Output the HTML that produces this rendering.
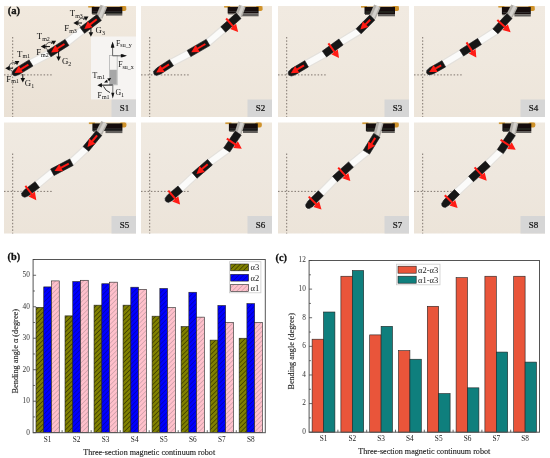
<!DOCTYPE html>
<html><head><meta charset="utf-8"><style>
html,body{margin:0;padding:0;background:#fff;width:550px;height:458px;overflow:hidden}
svg{display:block}
</style></head><body>
<svg width="550" height="458" viewBox="0 0 550 458">
<defs><linearGradient id="bg" x1="0" y1="0" x2="0" y2="1"><stop offset="0" stop-color="#f1eae1"/><stop offset="0.5" stop-color="#efe8de"/><stop offset="1" stop-color="#ede5da"/></linearGradient><linearGradient id="bgp1" x1="0" y1="0" x2="0" y2="1"><stop offset="0" stop-color="#f1e9de"/><stop offset="1" stop-color="#eae1d5"/></linearGradient><linearGradient id="bg2" x1="0" y1="0" x2="0" y2="1"><stop offset="0" stop-color="#f0eae1"/><stop offset="0.5" stop-color="#eee7de"/><stop offset="1" stop-color="#ece4d9"/></linearGradient><filter id="soft" x="-5%" y="-5%" width="110%" height="110%"><feGaussianBlur stdDeviation="0.45"/></filter></defs>
<rect x="4" y="6" width="132" height="111" fill="url(#bgp1)"/>
<rect x="91" y="36.5" width="45" height="63" fill="#f6f4f2"/>
<line x1="12.7" y1="37" x2="12.7" y2="117" stroke="#7f766e" stroke-width="1" stroke-dasharray="1.5,1.8"/>
<line x1="4" y1="74.9" x2="53" y2="74.9" stroke="#7f766e" stroke-width="1" stroke-dasharray="1.5,1.8"/>
<g filter="url(#soft)"><rect x="88.3" y="6" width="38.0" height="1.2" fill="#d29a38" fill-opacity="0.45"/><rect x="88.3" y="6" width="6" height="1.6" fill="#d29a38"/><rect x="119.3" y="6" width="7" height="5" rx="1.8" fill="#cf922a"/><rect x="91.8" y="6.9" width="30.5" height="6.9" fill="#121110"/><rect x="92.8" y="11.4" width="28.5" height="0.8" fill="#3a3835"/><rect x="106" y="13.8" width="16.299999999999997" height="1.799999999999999" fill="#64615d"/><rect x="92.3" y="13.5" width="9.200000000000003" height="1.2" fill="#55524e"/><line x1="103.8" y1="6.0" x2="99.2" y2="17.5" stroke="#b3afa9" stroke-width="7"/><line x1="104.4" y1="6.0" x2="99.8" y2="17.5" stroke="#d3d0cb" stroke-width="3"/><path d="M12.5,74.3 L31.0,63.0 L49.0,53.8 L67.0,42.4 L82.3,30.4 L99.2,17.5" fill="none" stroke="#e4e1dc" stroke-width="8.4" stroke-linejoin="round"/><path d="M12.5,74.3 L31.0,63.0 L49.0,53.8 L67.0,42.4 L82.3,30.4 L99.2,17.5" fill="none" stroke="#fbfbfa" stroke-width="6" stroke-linejoin="round"/><polygon points="12.9,75.0 14.9,75.9 19.1,74.5 32.9,66.1 29.1,59.9 15.3,68.4 12.2,71.5 12.1,73.6" fill="#151414" stroke="#151414" stroke-width="0.6" stroke-linejoin="round"/><polygon points="50.9,56.8 68.9,45.4 65.1,39.4 47.1,50.8" fill="#151414" stroke="#151414" stroke-width="0.6" stroke-linejoin="round"/><polygon points="84.5,33.3 101.4,20.4 97.0,14.6 80.1,27.5" fill="#151414" stroke="#151414" stroke-width="0.6" stroke-linejoin="round"/><line x1="28.4" y1="64.6" x2="20.2" y2="69.6" stroke="#ff1a12" stroke-width="2"/><polygon points="14.6,73.0 18.9,65.7 23.1,72.5" fill="#ff1a12"/><line x1="64.5" y1="44.0" x2="56.6" y2="49.0" stroke="#ff1a12" stroke-width="2"/><polygon points="51.1,52.5 55.3,45.1 59.6,51.8" fill="#ff1a12"/><line x1="96.8" y1="19.3" x2="89.5" y2="24.9" stroke="#ff1a12" stroke-width="2"/><polygon points="84.3,28.9 87.8,21.2 92.7,27.5" fill="#ff1a12"/></g>
<rect x="111.5" y="99.5" width="24.5" height="17.5" fill="#d6d6d6"/>
<text x="124.4" y="111.1" font-size="9" text-anchor="middle" font-family="'Liberation Serif', 'DejaVu Serif', serif" fill="#111" stroke="#111" stroke-width="0.2">S1</text>
<rect x="141" y="6" width="131" height="111" fill="url(#bg)"/>
<line x1="149.7" y1="37" x2="149.7" y2="117" stroke="#7f766e" stroke-width="1" stroke-dasharray="1.5,1.8"/>
<line x1="141" y1="74.9" x2="190" y2="74.9" stroke="#7f766e" stroke-width="1" stroke-dasharray="1.5,1.8"/>
<g filter="url(#soft)"><rect x="224.2" y="6" width="38.400000000000034" height="1.2" fill="#d29a38" fill-opacity="0.45"/><rect x="224.2" y="6" width="6" height="1.6" fill="#d29a38"/><rect x="255.60000000000002" y="6" width="7" height="5" rx="1.8" fill="#cf922a"/><rect x="227.7" y="6.9" width="30.900000000000034" height="6.6" fill="#121110"/><rect x="228.7" y="11.1" width="28.900000000000034" height="0.8" fill="#3a3835"/><rect x="241" y="13.5" width="17.600000000000023" height="2.8000000000000007" fill="#64615d"/><rect x="228.2" y="13.2" width="8.300000000000011" height="1.2" fill="#55524e"/><line x1="242.3" y1="6.0" x2="238.6" y2="15.8" stroke="#b3afa9" stroke-width="7"/><line x1="242.9" y1="6.0" x2="239.2" y2="15.8" stroke="#d3d0cb" stroke-width="3"/><path d="M154.1,74.0 L171.5,62.7 L189.0,53.5 L208.0,42.5 L223.2,29.5 L238.6,15.8" fill="none" stroke="#e4e1dc" stroke-width="8.4" stroke-linejoin="round"/><path d="M154.1,74.0 L171.5,62.7 L189.0,53.5 L208.0,42.5 L223.2,29.5 L238.6,15.8" fill="none" stroke="#fbfbfa" stroke-width="6" stroke-linejoin="round"/><polygon points="154.5,74.7 156.5,75.5 160.7,74.0 173.5,65.7 169.5,59.7 156.8,68.0 153.7,71.2 153.7,73.3" fill="#151414" stroke="#151414" stroke-width="0.6" stroke-linejoin="round"/><polygon points="190.8,56.6 209.8,45.6 206.2,39.4 187.2,50.4" fill="#151414" stroke="#151414" stroke-width="0.6" stroke-linejoin="round"/><polygon points="225.6,32.2 241.0,18.5 236.2,13.1 220.8,26.8" fill="#151414" stroke="#151414" stroke-width="0.6" stroke-linejoin="round"/><line x1="169.0" y1="64.3" x2="161.6" y2="69.1" stroke="#ff1a12" stroke-width="2"/><polygon points="156.2,72.6 160.3,65.2 164.7,71.9" fill="#ff1a12"/><line x1="205.4" y1="44.0" x2="196.8" y2="49.0" stroke="#ff1a12" stroke-width="2"/><polygon points="191.2,52.2 195.7,45.0 199.7,52.0" fill="#ff1a12"/><line x1="226.1" y1="18.5" x2="233.8" y2="27.1" stroke="#ff1a12" stroke-width="2"/><polygon points="238.1,32.0 230.2,29.1 236.1,23.7" fill="#ff1a12"/></g>
<rect x="247.5" y="99.5" width="24.5" height="17.5" fill="#d6d6d6"/>
<text x="260.4" y="111.1" font-size="9" text-anchor="middle" font-family="'Liberation Serif', 'DejaVu Serif', serif" fill="#111" stroke="#111" stroke-width="0.2">S2</text>
<rect x="278" y="6" width="131" height="111" fill="url(#bg)"/>
<line x1="286.7" y1="37" x2="286.7" y2="117" stroke="#7f766e" stroke-width="1" stroke-dasharray="1.5,1.8"/>
<line x1="278" y1="74.9" x2="327" y2="74.9" stroke="#7f766e" stroke-width="1" stroke-dasharray="1.5,1.8"/>
<g filter="url(#soft)"><rect x="361.0" y="6" width="38.0" height="1.2" fill="#d29a38" fill-opacity="0.45"/><rect x="361.0" y="6" width="6" height="1.6" fill="#d29a38"/><rect x="392" y="6" width="7" height="5" rx="1.8" fill="#cf922a"/><rect x="364.5" y="6.9" width="30.5" height="7.1" fill="#121110"/><rect x="365.5" y="11.6" width="28.5" height="0.8" fill="#3a3835"/><rect x="378" y="14" width="17" height="2.3000000000000007" fill="#64615d"/><rect x="365.0" y="13.7" width="8.5" height="1.2" fill="#55524e"/><line x1="377.3" y1="6.0" x2="372.3" y2="17.6" stroke="#b3afa9" stroke-width="7"/><line x1="377.9" y1="6.0" x2="372.9" y2="17.6" stroke="#d3d0cb" stroke-width="3"/><path d="M288.7,74.5 L306.6,63.8 L324.4,54.0 L341.0,42.0 L358.6,31.3 L372.3,17.6" fill="none" stroke="#e4e1dc" stroke-width="8.4" stroke-linejoin="round"/><path d="M288.7,74.5 L306.6,63.8 L324.4,54.0 L341.0,42.0 L358.6,31.3 L372.3,17.6" fill="none" stroke="#fbfbfa" stroke-width="6" stroke-linejoin="round"/><polygon points="289.1,75.2 291.1,76.1 295.3,74.8 308.4,66.9 304.8,60.7 291.6,68.6 288.4,71.7 288.3,73.8" fill="#151414" stroke="#151414" stroke-width="0.6" stroke-linejoin="round"/><polygon points="326.5,56.9 343.1,44.9 338.9,39.1 322.3,51.1" fill="#151414" stroke="#151414" stroke-width="0.6" stroke-linejoin="round"/><polygon points="361.1,33.8 374.8,20.1 369.8,15.1 356.1,28.8" fill="#151414" stroke="#151414" stroke-width="0.6" stroke-linejoin="round"/><line x1="304.0" y1="65.3" x2="296.4" y2="69.9" stroke="#ff1a12" stroke-width="2"/><polygon points="290.8,73.2 295.2,65.9 299.3,72.8" fill="#ff1a12"/><line x1="328.4" y1="43.4" x2="335.2" y2="52.8" stroke="#ff1a12" stroke-width="2"/><polygon points="339.0,58.0 331.3,54.3 337.8,49.6" fill="#ff1a12"/><line x1="370.2" y1="19.7" x2="365.0" y2="24.9" stroke="#ff1a12" stroke-width="2"/><polygon points="360.4,29.5 362.8,21.4 368.5,27.1" fill="#ff1a12"/></g>
<rect x="384.5" y="99.5" width="24.5" height="17.5" fill="#d6d6d6"/>
<text x="397.4" y="111.1" font-size="9" text-anchor="middle" font-family="'Liberation Serif', 'DejaVu Serif', serif" fill="#111" stroke="#111" stroke-width="0.2">S3</text>
<rect x="414" y="6" width="131" height="111" fill="url(#bg)"/>
<line x1="422.7" y1="37" x2="422.7" y2="117" stroke="#7f766e" stroke-width="1" stroke-dasharray="1.5,1.8"/>
<line x1="414" y1="74.9" x2="463" y2="74.9" stroke="#7f766e" stroke-width="1" stroke-dasharray="1.5,1.8"/>
<g filter="url(#soft)"><rect x="498.4" y="6" width="36.39999999999998" height="1.2" fill="#d29a38" fill-opacity="0.45"/><rect x="498.4" y="6" width="6" height="1.6" fill="#d29a38"/><rect x="527.8" y="6" width="7" height="5" rx="1.8" fill="#cf922a"/><rect x="501.9" y="6.9" width="28.899999999999977" height="7.5" fill="#121110"/><rect x="502.9" y="12.0" width="26.899999999999977" height="0.8" fill="#3a3835"/><rect x="514.4" y="14.4" width="16.399999999999977" height="2.0999999999999996" fill="#64615d"/><rect x="502.4" y="14.1" width="7.5" height="1.2" fill="#55524e"/><line x1="514.4" y1="6.0" x2="509.5" y2="16.0" stroke="#b3afa9" stroke-width="7"/><line x1="515.0" y1="6.0" x2="510.1" y2="16.0" stroke="#d3d0cb" stroke-width="3"/><path d="M427.0,73.3 L443.8,63.8 L461.6,53.0 L479.5,41.5 L495.4,31.3 L509.5,16.0" fill="none" stroke="#e4e1dc" stroke-width="8.4" stroke-linejoin="round"/><path d="M427.0,73.3 L443.8,63.8 L461.6,53.0 L479.5,41.5 L495.4,31.3 L509.5,16.0" fill="none" stroke="#fbfbfa" stroke-width="6" stroke-linejoin="round"/><polygon points="427.4,74.0 429.3,75.0 433.6,73.7 445.6,66.9 442.0,60.7 430.0,67.5 426.8,70.4 426.6,72.6" fill="#151414" stroke="#151414" stroke-width="0.6" stroke-linejoin="round"/><polygon points="463.5,56.0 481.4,44.5 477.6,38.5 459.7,50.0" fill="#151414" stroke="#151414" stroke-width="0.6" stroke-linejoin="round"/><polygon points="498.0,33.7 512.1,18.4 506.9,13.6 492.8,28.9" fill="#151414" stroke="#151414" stroke-width="0.6" stroke-linejoin="round"/><line x1="441.2" y1="65.3" x2="434.8" y2="68.9" stroke="#ff1a12" stroke-width="2"/><polygon points="429.2,72.1 433.7,64.9 437.7,71.9" fill="#ff1a12"/><line x1="466.5" y1="42.4" x2="472.7" y2="52.1" stroke="#ff1a12" stroke-width="2"/><polygon points="476.3,57.6 468.8,53.5 475.6,49.1" fill="#ff1a12"/><line x1="497.3" y1="20.0" x2="505.8" y2="27.8" stroke="#ff1a12" stroke-width="2"/><polygon points="510.6,32.2 502.4,30.1 507.8,24.2" fill="#ff1a12"/></g>
<rect x="520.5" y="99.5" width="24.5" height="17.5" fill="#d6d6d6"/>
<text x="533.4" y="111.1" font-size="9" text-anchor="middle" font-family="'Liberation Serif', 'DejaVu Serif', serif" fill="#111" stroke="#111" stroke-width="0.2">S4</text>
<rect x="4" y="122.5" width="132" height="111.0" fill="url(#bg2)"/>
<line x1="12.7" y1="153.5" x2="12.7" y2="233.5" stroke="#7f766e" stroke-width="1" stroke-dasharray="1.5,1.8"/>
<line x1="4" y1="191.4" x2="53" y2="191.4" stroke="#7f766e" stroke-width="1" stroke-dasharray="1.5,1.8"/>
<g filter="url(#soft)"><rect x="88.9" y="122.5" width="37.5" height="1.2" fill="#d29a38" fill-opacity="0.45"/><rect x="88.9" y="122.5" width="6" height="1.6" fill="#d29a38"/><rect x="119.4" y="122.5" width="7" height="5" rx="1.8" fill="#cf922a"/><rect x="92.4" y="123.4" width="30.0" height="7.500000000000005" fill="#121110"/><rect x="93.4" y="128.5" width="28.0" height="0.8" fill="#3a3835"/><rect x="105.5" y="130.9" width="16.900000000000006" height="2.1999999999999886" fill="#64615d"/><rect x="92.9" y="130.6" width="8.099999999999994" height="1.2" fill="#55524e"/><line x1="104.4" y1="122.5" x2="99.0" y2="133.1" stroke="#b3afa9" stroke-width="7"/><line x1="105.0" y1="122.5" x2="99.6" y2="133.1" stroke="#d3d0cb" stroke-width="3"/><path d="M22.3,196.0 L37.3,184.6 L52.3,172.3 L71.5,162.2 L85.9,148.9 L99.0,133.1" fill="none" stroke="#e4e1dc" stroke-width="8.4" stroke-linejoin="round"/><path d="M22.3,196.0 L37.3,184.6 L52.3,172.3 L71.5,162.2 L85.9,148.9 L99.0,133.1" fill="none" stroke="#fbfbfa" stroke-width="6" stroke-linejoin="round"/><polygon points="22.8,196.6 24.8,197.3 28.9,195.5 39.5,187.5 35.1,181.7 24.5,189.8 21.7,193.2 21.8,195.4" fill="#151414" stroke="#151414" stroke-width="0.6" stroke-linejoin="round"/><polygon points="54.0,175.5 73.2,165.4 69.8,159.0 50.6,169.1" fill="#151414" stroke="#151414" stroke-width="0.6" stroke-linejoin="round"/><polygon points="88.7,151.2 101.8,135.4 96.2,130.8 83.1,146.6" fill="#151414" stroke="#151414" stroke-width="0.6" stroke-linejoin="round"/><line x1="25.4" y1="185.8" x2="32.4" y2="195.0" stroke="#ff1a12" stroke-width="2"/><polygon points="36.3,200.2 28.6,196.6 34.9,191.8" fill="#ff1a12"/><line x1="68.8" y1="163.6" x2="60.3" y2="168.1" stroke="#ff1a12" stroke-width="2"/><polygon points="54.5,171.1 59.3,164.1 63.0,171.2" fill="#ff1a12"/><line x1="97.1" y1="135.4" x2="91.6" y2="142.0" stroke="#ff1a12" stroke-width="2"/><polygon points="87.5,147.0 89.2,138.6 95.4,143.8" fill="#ff1a12"/></g>
<rect x="111.5" y="216.0" width="24.5" height="17.5" fill="#d6d6d6"/>
<text x="124.4" y="227.6" font-size="9" text-anchor="middle" font-family="'Liberation Serif', 'DejaVu Serif', serif" fill="#111" stroke="#111" stroke-width="0.2">S5</text>
<rect x="141" y="122.5" width="131" height="111.0" fill="url(#bg2)"/>
<line x1="149.7" y1="153.5" x2="149.7" y2="233.5" stroke="#7f766e" stroke-width="1" stroke-dasharray="1.5,1.8"/>
<line x1="141" y1="191.4" x2="190" y2="191.4" stroke="#7f766e" stroke-width="1" stroke-dasharray="1.5,1.8"/>
<g filter="url(#soft)"><rect x="225.4" y="122.5" width="36.400000000000006" height="1.2" fill="#d29a38" fill-opacity="0.45"/><rect x="225.4" y="122.5" width="6" height="1.6" fill="#d29a38"/><rect x="254.8" y="122.5" width="7" height="5" rx="1.8" fill="#cf922a"/><rect x="228.9" y="123.4" width="28.900000000000006" height="7.500000000000005" fill="#121110"/><rect x="229.9" y="128.5" width="26.900000000000006" height="0.8" fill="#3a3835"/><rect x="243" y="130.9" width="14.800000000000011" height="2.0999999999999943" fill="#64615d"/><rect x="229.4" y="130.6" width="9.099999999999994" height="1.2" fill="#55524e"/><line x1="241.4" y1="122.5" x2="238.2" y2="133.1" stroke="#b3afa9" stroke-width="7"/><line x1="242.0" y1="122.5" x2="238.8" y2="133.1" stroke="#d3d0cb" stroke-width="3"/><path d="M165.8,201.2 L180.3,188.8 L194.6,175.5 L210.0,162.2 L226.7,150.0 L238.2,133.1" fill="none" stroke="#e4e1dc" stroke-width="8.4" stroke-linejoin="round"/><path d="M165.8,201.2 L180.3,188.8 L194.6,175.5 L210.0,162.2 L226.7,150.0 L238.2,133.1" fill="none" stroke="#fbfbfa" stroke-width="6" stroke-linejoin="round"/><polygon points="166.3,201.8 168.4,202.4 172.3,200.4 182.6,191.5 178.0,186.1 167.6,194.9 165.0,198.4 165.3,200.6" fill="#151414" stroke="#151414" stroke-width="0.6" stroke-linejoin="round"/><polygon points="197.0,178.2 212.4,164.9 207.6,159.5 192.2,172.8" fill="#151414" stroke="#151414" stroke-width="0.6" stroke-linejoin="round"/><polygon points="229.7,152.0 241.2,135.1 235.2,131.1 223.7,148.0" fill="#151414" stroke="#151414" stroke-width="0.6" stroke-linejoin="round"/><line x1="168.3" y1="190.7" x2="175.9" y2="199.5" stroke="#ff1a12" stroke-width="2"/><polygon points="180.1,204.5 172.2,201.4 178.3,196.2" fill="#ff1a12"/><line x1="207.7" y1="164.2" x2="201.4" y2="169.6" stroke="#ff1a12" stroke-width="2"/><polygon points="196.5,173.9 199.6,165.9 204.8,172.0" fill="#ff1a12"/><line x1="226.8" y1="138.7" x2="236.4" y2="145.2" stroke="#ff1a12" stroke-width="2"/><polygon points="241.8,148.8 233.3,147.9 237.8,141.3" fill="#ff1a12"/></g>
<rect x="247.5" y="216.0" width="24.5" height="17.5" fill="#d6d6d6"/>
<text x="260.4" y="227.6" font-size="9" text-anchor="middle" font-family="'Liberation Serif', 'DejaVu Serif', serif" fill="#111" stroke="#111" stroke-width="0.2">S6</text>
<rect x="278" y="122.5" width="131" height="111.0" fill="url(#bg2)"/>
<line x1="286.7" y1="153.5" x2="286.7" y2="233.5" stroke="#7f766e" stroke-width="1" stroke-dasharray="1.5,1.8"/>
<line x1="278" y1="191.4" x2="327" y2="191.4" stroke="#7f766e" stroke-width="1" stroke-dasharray="1.5,1.8"/>
<g filter="url(#soft)"><rect x="362.4" y="122.5" width="36.400000000000034" height="1.2" fill="#d29a38" fill-opacity="0.45"/><rect x="362.4" y="122.5" width="6" height="1.6" fill="#d29a38"/><rect x="391.8" y="122.5" width="7" height="5" rx="1.8" fill="#cf922a"/><rect x="365.9" y="123.4" width="28.900000000000034" height="7.6" fill="#121110"/><rect x="366.9" y="128.6" width="26.900000000000034" height="0.8" fill="#3a3835"/><rect x="381.7" y="131" width="13.100000000000023" height="2" fill="#64615d"/><rect x="366.4" y="130.7" width="10.800000000000011" height="1.2" fill="#55524e"/><line x1="380.1" y1="122.5" x2="376.8" y2="135.3" stroke="#b3afa9" stroke-width="7"/><line x1="380.7" y1="122.5" x2="377.4" y2="135.3" stroke="#d3d0cb" stroke-width="3"/><path d="M306.6,207.6 L320.9,193.3 L335.0,179.0 L351.0,164.6 L366.4,152.2 L376.8,135.3" fill="none" stroke="#e4e1dc" stroke-width="8.4" stroke-linejoin="round"/><path d="M306.6,207.6 L320.9,193.3 L335.0,179.0 L351.0,164.6 L366.4,152.2 L376.8,135.3" fill="none" stroke="#fbfbfa" stroke-width="6" stroke-linejoin="round"/><polygon points="307.2,208.2 309.3,208.6 313.0,206.3 323.4,195.8 318.4,190.8 307.9,201.2 305.6,204.9 306.0,207.0" fill="#151414" stroke="#151414" stroke-width="0.6" stroke-linejoin="round"/><polygon points="337.4,181.7 353.4,167.3 348.6,161.9 332.6,176.3" fill="#151414" stroke="#151414" stroke-width="0.6" stroke-linejoin="round"/><polygon points="369.5,154.1 379.9,137.2 373.7,133.4 363.3,150.3" fill="#151414" stroke="#151414" stroke-width="0.6" stroke-linejoin="round"/><line x1="308.7" y1="196.6" x2="316.9" y2="204.8" stroke="#ff1a12" stroke-width="2"/><polygon points="321.5,209.4 313.4,206.9 319.1,201.2" fill="#ff1a12"/><line x1="338.2" y1="167.7" x2="346.0" y2="176.3" stroke="#ff1a12" stroke-width="2"/><polygon points="350.3,181.1 342.3,178.2 348.3,172.9" fill="#ff1a12"/><line x1="375.2" y1="137.9" x2="371.1" y2="144.5" stroke="#ff1a12" stroke-width="2"/><polygon points="367.7,150.1 368.2,141.6 375.0,145.8" fill="#ff1a12"/></g>
<rect x="384.5" y="216.0" width="24.5" height="17.5" fill="#d6d6d6"/>
<text x="397.4" y="227.6" font-size="9" text-anchor="middle" font-family="'Liberation Serif', 'DejaVu Serif', serif" fill="#111" stroke="#111" stroke-width="0.2">S7</text>
<rect x="414" y="122.5" width="131" height="111.0" fill="url(#bg2)"/>
<line x1="422.7" y1="153.5" x2="422.7" y2="233.5" stroke="#7f766e" stroke-width="1" stroke-dasharray="1.5,1.8"/>
<line x1="414" y1="191.4" x2="463" y2="191.4" stroke="#7f766e" stroke-width="1" stroke-dasharray="1.5,1.8"/>
<g filter="url(#soft)"><rect x="498.9" y="122.5" width="36.39999999999998" height="1.2" fill="#d29a38" fill-opacity="0.45"/><rect x="498.9" y="122.5" width="6" height="1.6" fill="#d29a38"/><rect x="528.3" y="122.5" width="7" height="5" rx="1.8" fill="#cf922a"/><rect x="502.4" y="123.4" width="28.899999999999977" height="7.6" fill="#121110"/><rect x="503.4" y="128.6" width="26.899999999999977" height="0.8" fill="#3a3835"/><rect x="514" y="131" width="17.299999999999955" height="2" fill="#64615d"/><rect x="502.9" y="130.7" width="6.600000000000023" height="1.2" fill="#55524e"/><line x1="515.0" y1="122.5" x2="512.3" y2="133.6" stroke="#b3afa9" stroke-width="7"/><line x1="515.6" y1="122.5" x2="512.9" y2="133.6" stroke="#d3d0cb" stroke-width="3"/><path d="M442.6,206.4 L457.0,192.0 L471.0,179.0 L487.8,163.8 L500.3,151.6 L512.3,133.6" fill="none" stroke="#e4e1dc" stroke-width="8.4" stroke-linejoin="round"/><path d="M442.6,206.4 L457.0,192.0 L471.0,179.0 L487.8,163.8 L500.3,151.6 L512.3,133.6" fill="none" stroke="#fbfbfa" stroke-width="6" stroke-linejoin="round"/><polygon points="443.2,207.0 445.3,207.4 449.0,205.1 459.5,194.5 454.5,189.5 443.9,200.0 441.6,203.7 442.0,205.8" fill="#151414" stroke="#151414" stroke-width="0.6" stroke-linejoin="round"/><polygon points="473.4,181.7 490.2,166.5 485.4,161.1 468.6,176.3" fill="#151414" stroke="#151414" stroke-width="0.6" stroke-linejoin="round"/><polygon points="503.3,153.6 515.3,135.6 509.3,131.6 497.3,149.6" fill="#151414" stroke="#151414" stroke-width="0.6" stroke-linejoin="round"/><line x1="444.8" y1="195.3" x2="453.0" y2="203.5" stroke="#ff1a12" stroke-width="2"/><polygon points="457.6,208.1 449.4,205.6 455.1,200.0" fill="#ff1a12"/><line x1="474.6" y1="167.3" x2="482.4" y2="175.9" stroke="#ff1a12" stroke-width="2"/><polygon points="486.7,180.7 478.7,177.8 484.7,172.4" fill="#ff1a12"/><line x1="500.6" y1="139.8" x2="510.3" y2="146.2" stroke="#ff1a12" stroke-width="2"/><polygon points="515.7,149.8 507.2,149.0 511.7,142.3" fill="#ff1a12"/></g>
<rect x="520.5" y="216.0" width="24.5" height="17.5" fill="#d6d6d6"/>
<text x="533.4" y="227.6" font-size="9" text-anchor="middle" font-family="'Liberation Serif', 'DejaVu Serif', serif" fill="#111" stroke="#111" stroke-width="0.2">S8</text>
<text x="7.8" y="13.5" font-size="10.6" font-weight="bold" font-family="'Liberation Serif', 'DejaVu Serif', serif" fill="#111" stroke="#111" stroke-width="0.3">(a)</text><text x="69.8" y="16.2" font-size="8.8" font-family="'Liberation Serif', 'DejaVu Serif', serif" fill="#111">T<tspan font-size="6" dy="1.6">m3</tspan></text><text x="64.3" y="31.2" font-size="8.8" font-family="'Liberation Serif', 'DejaVu Serif', serif" fill="#111">F<tspan font-size="6" dy="1.6">m3</tspan></text><text x="95.6" y="33.4" font-size="8.8" font-family="'Liberation Serif', 'DejaVu Serif', serif" fill="#111">G<tspan font-size="6" dy="1.6">3</tspan></text><path d="M84.7,18.8 A4.3,4.3 0 1 0 81.0,26.5" fill="none" stroke="#333" stroke-width="0.8"/><line x1="83.2" y1="19.6" x2="85.7" y2="18.2" stroke="#111" stroke-width="0.8"/><polygon points="88.5,16.6 86.0,20.7 83.6,16.6" fill="#111"/><line x1="82.0" y1="23.0" x2="76.8" y2="23.0" stroke="#111" stroke-width="1"/><polygon points="73.3,23.0 77.8,20.5 77.8,25.5" fill="#111"/><line x1="90.9" y1="27.5" x2="90.9" y2="33.2" stroke="#111" stroke-width="1"/><polygon points="90.9,36.7 88.6,32.2 93.2,32.2" fill="#111"/><text x="36.8" y="39.4" font-size="8.8" font-family="'Liberation Serif', 'DejaVu Serif', serif" fill="#111">T<tspan font-size="6" dy="1.6">m2</tspan></text><text x="36.2" y="55.4" font-size="8.8" font-family="'Liberation Serif', 'DejaVu Serif', serif" fill="#111">F<tspan font-size="6" dy="1.6">m2</tspan></text><text x="62" y="64.4" font-size="8.8" font-family="'Liberation Serif', 'DejaVu Serif', serif" fill="#111">G<tspan font-size="6" dy="1.6">2</tspan></text><path d="M52.4,42.9 A4.3,4.3 0 1 0 48.7,50.6" fill="none" stroke="#333" stroke-width="0.8"/><line x1="50.9" y1="43.7" x2="53.4" y2="42.3" stroke="#111" stroke-width="0.8"/><polygon points="56.1,40.7 53.7,44.8 51.3,40.7" fill="#111"/><line x1="50.0" y1="46.6" x2="44.3" y2="46.6" stroke="#111" stroke-width="1"/><polygon points="40.8,46.6 45.3,44.1 45.3,49.1" fill="#111"/><line x1="58.6" y1="50.8" x2="58.6" y2="57.5" stroke="#111" stroke-width="1"/><polygon points="58.6,61.0 56.3,56.5 60.9,56.5" fill="#111"/><text x="17" y="56.6" font-size="8.8" font-family="'Liberation Serif', 'DejaVu Serif', serif" fill="#111">T<tspan font-size="6" dy="1.6">m1</tspan></text><text x="6.3" y="81.8" font-size="8.8" font-family="'Liberation Serif', 'DejaVu Serif', serif" fill="#111">F<tspan font-size="6" dy="1.6">m1</tspan></text><text x="24.8" y="86" font-size="8.8" font-family="'Liberation Serif', 'DejaVu Serif', serif" fill="#111">G<tspan font-size="6" dy="1.6">1</tspan></text><path d="M15.7,63.3 A4.3,4.3 0 1 0 12.0,71.0" fill="none" stroke="#333" stroke-width="0.8"/><line x1="14.2" y1="64.1" x2="16.7" y2="62.7" stroke="#111" stroke-width="0.8"/><polygon points="19.4,61.1 17.0,65.2 14.6,61.1" fill="#111"/><line x1="13.0" y1="68.2" x2="8.7" y2="68.2" stroke="#111" stroke-width="1"/><polygon points="5.2,68.2 9.7,65.7 9.7,70.7" fill="#111"/><line x1="22.8" y1="74.0" x2="22.8" y2="79.0" stroke="#111" stroke-width="1"/><polygon points="22.8,82.5 20.5,78.0 25.1,78.0" fill="#111"/><rect x="109.4" y="55.4" width="7.8" height="29.4" fill="none" stroke="#b5b5b5" stroke-width="0.8"/><rect x="109.8" y="69.8" width="7" height="14.6" fill="#a7a7a7"/><line x1="112.6" y1="55.8" x2="112.6" y2="45.8" stroke="#666" stroke-width="1"/><polygon points="112.6,41.8 114.4,46.8 110.8,46.8" fill="#666"/><polygon points="112.6,41.8 110.8,47.8 114.4,47.8" fill="#111"/><line x1="112.6" y1="55.8" x2="122.8" y2="55.8" stroke="#666" stroke-width="1"/><polygon points="126.8,55.8 121.8,57.6 121.8,54.0" fill="#666"/><polygon points="126.8,55.8 120.8,54 120.8,57.6" fill="#111"/><text x="116" y="45.8" font-size="7.8" font-family="'Liberation Serif', 'DejaVu Serif', serif" fill="#111">F<tspan font-size="6" dy="1.6">su_y</tspan></text><text x="118.2" y="67.2" font-size="7.8" font-family="'Liberation Serif', 'DejaVu Serif', serif" fill="#111">F<tspan font-size="6" dy="1.6">su_x</tspan></text><text x="92.6" y="77.8" font-size="7.8" font-family="'Liberation Serif', 'DejaVu Serif', serif" fill="#111">T<tspan font-size="6" dy="1.6">m1</tspan></text><line x1="104.8" y1="82.2" x2="110.6" y2="78.4" stroke="#333" stroke-width="0.9" stroke-dasharray="1.2,0.8"/><polygon points="111.2,78 107.2,78.6 109.2,81.2" fill="#111"/><polygon points="104.2,82.6 106.6,79.8 108,82.6" fill="#111"/><line x1="112.8" y1="85.0" x2="100.9" y2="85.2" stroke="#111" stroke-width="1"/><polygon points="97.4,85.3 101.9,83.0 101.9,87.4" fill="#111"/><path d="M103.5,86.3 Q105.5,91 110,92.6" fill="none" stroke="#222" stroke-width="0.9"/><line x1="112.8" y1="85" x2="112.8" y2="93" stroke="#777" stroke-width="1"/><polygon points="112.8,98.4 111.2,92.8 114.4,92.8" fill="#111"/><text x="115.4" y="95.3" font-size="7.8" font-family="'Liberation Serif', 'DejaVu Serif', serif" fill="#111">G<tspan font-size="6" dy="1.6">1</tspan></text><text x="97.6" y="97.6" font-size="7.8" font-family="'Liberation Serif', 'DejaVu Serif', serif" fill="#111">F<tspan font-size="6" dy="1.6">m1</tspan></text>
<defs><pattern id="h1" width="3.3" height="3.3" patternUnits="userSpaceOnUse" patternTransform="rotate(45)"><rect width="4" height="4" fill="#808000"/><line x1="0" y1="0" x2="0" y2="4" stroke="#222200" stroke-width="1.1"/></pattern><pattern id="h2" width="3.3" height="3.3" patternUnits="userSpaceOnUse" patternTransform="rotate(45)"><rect width="4" height="4" fill="#0000ff"/><line x1="0" y1="0" x2="0" y2="4" stroke="#00008c" stroke-width="1"/></pattern><pattern id="h3" width="3.3" height="3.3" patternUnits="userSpaceOnUse" patternTransform="rotate(45)"><rect width="4" height="4" fill="#ffc0cb"/><line x1="0" y1="0" x2="0" y2="4" stroke="#ad8a90" stroke-width="0.9"/></pattern></defs><rect x="35.99" y="307.37" width="7.75" height="125.33" fill="url(#h1)" stroke="#222" stroke-width="0.6"/><rect x="43.74" y="286.90" width="7.75" height="145.80" fill="url(#h2)" stroke="#222" stroke-width="0.6"/><rect x="51.49" y="280.91" width="7.75" height="151.79" fill="url(#h3)" stroke="#222" stroke-width="0.6"/><rect x="65.01" y="315.87" width="7.75" height="116.83" fill="url(#h1)" stroke="#222" stroke-width="0.6"/><rect x="72.76" y="281.54" width="7.75" height="151.16" fill="url(#h2)" stroke="#222" stroke-width="0.6"/><rect x="80.51" y="280.28" width="7.75" height="152.42" fill="url(#h3)" stroke="#222" stroke-width="0.6"/><rect x="94.04" y="305.16" width="7.75" height="127.54" fill="url(#h1)" stroke="#222" stroke-width="0.6"/><rect x="101.79" y="283.75" width="7.75" height="148.95" fill="url(#h2)" stroke="#222" stroke-width="0.6"/><rect x="109.54" y="282.17" width="7.75" height="150.53" fill="url(#h3)" stroke="#222" stroke-width="0.6"/><rect x="123.06" y="305.16" width="7.75" height="127.54" fill="url(#h1)" stroke="#222" stroke-width="0.6"/><rect x="130.81" y="287.21" width="7.75" height="145.49" fill="url(#h2)" stroke="#222" stroke-width="0.6"/><rect x="138.56" y="289.42" width="7.75" height="143.28" fill="url(#h3)" stroke="#222" stroke-width="0.6"/><rect x="152.09" y="316.18" width="7.75" height="116.52" fill="url(#h1)" stroke="#222" stroke-width="0.6"/><rect x="159.84" y="288.47" width="7.75" height="144.23" fill="url(#h2)" stroke="#222" stroke-width="0.6"/><rect x="167.59" y="307.68" width="7.75" height="125.02" fill="url(#h3)" stroke="#222" stroke-width="0.6"/><rect x="181.11" y="326.58" width="7.75" height="106.12" fill="url(#h1)" stroke="#222" stroke-width="0.6"/><rect x="188.86" y="292.25" width="7.75" height="140.45" fill="url(#h2)" stroke="#222" stroke-width="0.6"/><rect x="196.61" y="317.13" width="7.75" height="115.57" fill="url(#h3)" stroke="#222" stroke-width="0.6"/><rect x="210.14" y="340.12" width="7.75" height="92.58" fill="url(#h1)" stroke="#222" stroke-width="0.6"/><rect x="217.89" y="305.48" width="7.75" height="127.22" fill="url(#h2)" stroke="#222" stroke-width="0.6"/><rect x="225.64" y="322.48" width="7.75" height="110.22" fill="url(#h3)" stroke="#222" stroke-width="0.6"/><rect x="239.16" y="338.23" width="7.75" height="94.47" fill="url(#h1)" stroke="#222" stroke-width="0.6"/><rect x="246.91" y="303.59" width="7.75" height="129.11" fill="url(#h2)" stroke="#222" stroke-width="0.6"/><rect x="254.66" y="322.48" width="7.75" height="110.22" fill="url(#h3)" stroke="#222" stroke-width="0.6"/><rect x="33.1" y="259.5" width="232.20000000000002" height="173.2" fill="none" stroke="#555" stroke-width="1"/><line x1="33.1" y1="432.70" x2="36.1" y2="432.70" stroke="#444" stroke-width="0.8"/><text x="29.900000000000002" y="434.90" font-size="7.3" text-anchor="end" font-family="'Liberation Serif', 'DejaVu Serif', serif" fill="#333">0</text><line x1="33.1" y1="416.95" x2="34.9" y2="416.95" stroke="#444" stroke-width="0.8"/><line x1="33.1" y1="401.21" x2="36.1" y2="401.21" stroke="#444" stroke-width="0.8"/><text x="29.900000000000002" y="403.41" font-size="7.3" text-anchor="end" font-family="'Liberation Serif', 'DejaVu Serif', serif" fill="#333">10</text><line x1="33.1" y1="385.46" x2="34.9" y2="385.46" stroke="#444" stroke-width="0.8"/><line x1="33.1" y1="369.72" x2="36.1" y2="369.72" stroke="#444" stroke-width="0.8"/><text x="29.900000000000002" y="371.92" font-size="7.3" text-anchor="end" font-family="'Liberation Serif', 'DejaVu Serif', serif" fill="#333">20</text><line x1="33.1" y1="353.97" x2="34.9" y2="353.97" stroke="#444" stroke-width="0.8"/><line x1="33.1" y1="338.23" x2="36.1" y2="338.23" stroke="#444" stroke-width="0.8"/><text x="29.900000000000002" y="340.43" font-size="7.3" text-anchor="end" font-family="'Liberation Serif', 'DejaVu Serif', serif" fill="#333">30</text><line x1="33.1" y1="322.48" x2="34.9" y2="322.48" stroke="#444" stroke-width="0.8"/><line x1="33.1" y1="306.74" x2="36.1" y2="306.74" stroke="#444" stroke-width="0.8"/><text x="29.900000000000002" y="308.94" font-size="7.3" text-anchor="end" font-family="'Liberation Serif', 'DejaVu Serif', serif" fill="#333">40</text><line x1="33.1" y1="290.99" x2="34.9" y2="290.99" stroke="#444" stroke-width="0.8"/><line x1="33.1" y1="275.25" x2="36.1" y2="275.25" stroke="#444" stroke-width="0.8"/><text x="29.900000000000002" y="277.45" font-size="7.3" text-anchor="end" font-family="'Liberation Serif', 'DejaVu Serif', serif" fill="#333">50</text><line x1="33.1" y1="259.50" x2="34.9" y2="259.50" stroke="#444" stroke-width="0.8"/><line x1="62.12" y1="432.7" x2="62.12" y2="430.2" stroke="#444" stroke-width="0.8"/><line x1="91.15" y1="432.7" x2="91.15" y2="430.2" stroke="#444" stroke-width="0.8"/><line x1="120.18" y1="432.7" x2="120.18" y2="430.2" stroke="#444" stroke-width="0.8"/><line x1="149.20" y1="432.7" x2="149.20" y2="430.2" stroke="#444" stroke-width="0.8"/><line x1="178.22" y1="432.7" x2="178.22" y2="430.2" stroke="#444" stroke-width="0.8"/><line x1="207.25" y1="432.7" x2="207.25" y2="430.2" stroke="#444" stroke-width="0.8"/><line x1="236.28" y1="432.7" x2="236.28" y2="430.2" stroke="#444" stroke-width="0.8"/><text x="47.61" y="441.9" font-size="7.3" text-anchor="middle" font-family="'Liberation Serif', 'DejaVu Serif', serif" fill="#222">S1</text><text x="76.64" y="441.9" font-size="7.3" text-anchor="middle" font-family="'Liberation Serif', 'DejaVu Serif', serif" fill="#222">S2</text><text x="105.66" y="441.9" font-size="7.3" text-anchor="middle" font-family="'Liberation Serif', 'DejaVu Serif', serif" fill="#222">S3</text><text x="134.69" y="441.9" font-size="7.3" text-anchor="middle" font-family="'Liberation Serif', 'DejaVu Serif', serif" fill="#222">S4</text><text x="163.71" y="441.9" font-size="7.3" text-anchor="middle" font-family="'Liberation Serif', 'DejaVu Serif', serif" fill="#222">S5</text><text x="192.74" y="441.9" font-size="7.3" text-anchor="middle" font-family="'Liberation Serif', 'DejaVu Serif', serif" fill="#222">S6</text><text x="221.76" y="441.9" font-size="7.3" text-anchor="middle" font-family="'Liberation Serif', 'DejaVu Serif', serif" fill="#222">S7</text><text x="250.79" y="441.9" font-size="7.3" text-anchor="middle" font-family="'Liberation Serif', 'DejaVu Serif', serif" fill="#222">S8</text><text x="149.20" y="454.7" font-size="8.1" text-anchor="middle" font-family="'Liberation Serif', 'DejaVu Serif', serif" fill="#1a1a1a" stroke="#1a1a1a" stroke-width="0.12">Three-section magnetic continuum robot</text><text transform="translate(17.6,351.2) rotate(-90)" font-size="8.3" textLength="84.5" lengthAdjust="spacingAndGlyphs" text-anchor="middle" font-family="'Liberation Serif', 'DejaVu Serif', serif" fill="#1a1a1a" stroke="#1a1a1a" stroke-width="0.12">Bending angle α (degree)</text><text x="7.6" y="260.3" font-size="10.3" font-weight="bold" font-family="'Liberation Serif', 'DejaVu Serif', serif" fill="#111" stroke="#111" stroke-width="0.3">(b)</text><rect x="229.4" y="261.7" width="31.5" height="31.1" fill="#fff" stroke="#ccc" stroke-width="0.8"/><rect x="230.7" y="264.0" width="17.9" height="6.8" fill="url(#h1)" stroke="#222" stroke-width="0.6"/><text x="250.5" y="270.3" font-size="8.5" font-family="'Liberation Serif', 'DejaVu Serif', serif" fill="#222">α3</text><rect x="230.7" y="274.3" width="17.9" height="6.8" fill="url(#h2)" stroke="#222" stroke-width="0.6"/><text x="250.5" y="280.6" font-size="8.5" font-family="'Liberation Serif', 'DejaVu Serif', serif" fill="#222">α2</text><rect x="230.7" y="284.6" width="17.9" height="6.8" fill="url(#h3)" stroke="#222" stroke-width="0.6"/><text x="250.5" y="290.9" font-size="8.5" font-family="'Liberation Serif', 'DejaVu Serif', serif" fill="#222">α1</text>
<rect x="312.10" y="339.20" width="11.4" height="93.00" fill="#e9553a" stroke="#222" stroke-width="0.6"/><rect x="323.50" y="312.01" width="11.4" height="120.19" fill="#0f7f7d" stroke="#222" stroke-width="0.6"/><rect x="340.90" y="276.24" width="11.4" height="155.96" fill="#e9553a" stroke="#222" stroke-width="0.6"/><rect x="352.30" y="270.52" width="11.4" height="161.68" fill="#0f7f7d" stroke="#222" stroke-width="0.6"/><rect x="369.70" y="334.90" width="11.4" height="97.30" fill="#e9553a" stroke="#222" stroke-width="0.6"/><rect x="381.10" y="326.32" width="11.4" height="105.88" fill="#0f7f7d" stroke="#222" stroke-width="0.6"/><rect x="398.50" y="350.64" width="11.4" height="81.56" fill="#e9553a" stroke="#222" stroke-width="0.6"/><rect x="409.90" y="359.23" width="11.4" height="72.97" fill="#0f7f7d" stroke="#222" stroke-width="0.6"/><rect x="427.30" y="306.29" width="11.4" height="125.91" fill="#e9553a" stroke="#222" stroke-width="0.6"/><rect x="438.70" y="393.57" width="11.4" height="38.63" fill="#0f7f7d" stroke="#222" stroke-width="0.6"/><rect x="456.10" y="277.67" width="11.4" height="154.53" fill="#e9553a" stroke="#222" stroke-width="0.6"/><rect x="467.50" y="387.84" width="11.4" height="44.36" fill="#0f7f7d" stroke="#222" stroke-width="0.6"/><rect x="484.90" y="276.24" width="11.4" height="155.96" fill="#e9553a" stroke="#222" stroke-width="0.6"/><rect x="496.30" y="352.07" width="11.4" height="80.13" fill="#0f7f7d" stroke="#222" stroke-width="0.6"/><rect x="513.70" y="276.24" width="11.4" height="155.96" fill="#e9553a" stroke="#222" stroke-width="0.6"/><rect x="525.10" y="362.09" width="11.4" height="70.11" fill="#0f7f7d" stroke="#222" stroke-width="0.6"/><rect x="309.1" y="260.5" width="230.39999999999998" height="171.7" fill="none" stroke="#555" stroke-width="1"/><line x1="309.1" y1="432.20" x2="312.1" y2="432.20" stroke="#444" stroke-width="0.8"/><text x="305.90000000000003" y="434.10" font-size="7.3" text-anchor="end" font-family="'Liberation Serif', 'DejaVu Serif', serif" fill="#333">0</text><line x1="309.1" y1="417.89" x2="310.90000000000003" y2="417.89" stroke="#444" stroke-width="0.8"/><line x1="309.1" y1="403.58" x2="312.1" y2="403.58" stroke="#444" stroke-width="0.8"/><text x="305.90000000000003" y="405.48" font-size="7.3" text-anchor="end" font-family="'Liberation Serif', 'DejaVu Serif', serif" fill="#333">2</text><line x1="309.1" y1="389.27" x2="310.90000000000003" y2="389.27" stroke="#444" stroke-width="0.8"/><line x1="309.1" y1="374.97" x2="312.1" y2="374.97" stroke="#444" stroke-width="0.8"/><text x="305.90000000000003" y="376.87" font-size="7.3" text-anchor="end" font-family="'Liberation Serif', 'DejaVu Serif', serif" fill="#333">4</text><line x1="309.1" y1="360.66" x2="310.90000000000003" y2="360.66" stroke="#444" stroke-width="0.8"/><line x1="309.1" y1="346.35" x2="312.1" y2="346.35" stroke="#444" stroke-width="0.8"/><text x="305.90000000000003" y="348.25" font-size="7.3" text-anchor="end" font-family="'Liberation Serif', 'DejaVu Serif', serif" fill="#333">6</text><line x1="309.1" y1="332.04" x2="310.90000000000003" y2="332.04" stroke="#444" stroke-width="0.8"/><line x1="309.1" y1="317.73" x2="312.1" y2="317.73" stroke="#444" stroke-width="0.8"/><text x="305.90000000000003" y="319.63" font-size="7.3" text-anchor="end" font-family="'Liberation Serif', 'DejaVu Serif', serif" fill="#333">8</text><line x1="309.1" y1="303.43" x2="310.90000000000003" y2="303.43" stroke="#444" stroke-width="0.8"/><line x1="309.1" y1="289.12" x2="312.1" y2="289.12" stroke="#444" stroke-width="0.8"/><text x="305.90000000000003" y="291.02" font-size="7.3" text-anchor="end" font-family="'Liberation Serif', 'DejaVu Serif', serif" fill="#333">10</text><line x1="309.1" y1="274.81" x2="310.90000000000003" y2="274.81" stroke="#444" stroke-width="0.8"/><line x1="309.1" y1="260.50" x2="312.1" y2="260.50" stroke="#444" stroke-width="0.8"/><text x="305.90000000000003" y="262.40" font-size="7.3" text-anchor="end" font-family="'Liberation Serif', 'DejaVu Serif', serif" fill="#333">12</text><line x1="337.90" y1="432.2" x2="337.90" y2="429.7" stroke="#444" stroke-width="0.8"/><line x1="366.70" y1="432.2" x2="366.70" y2="429.7" stroke="#444" stroke-width="0.8"/><line x1="395.50" y1="432.2" x2="395.50" y2="429.7" stroke="#444" stroke-width="0.8"/><line x1="424.30" y1="432.2" x2="424.30" y2="429.7" stroke="#444" stroke-width="0.8"/><line x1="453.10" y1="432.2" x2="453.10" y2="429.7" stroke="#444" stroke-width="0.8"/><line x1="481.90" y1="432.2" x2="481.90" y2="429.7" stroke="#444" stroke-width="0.8"/><line x1="510.70" y1="432.2" x2="510.70" y2="429.7" stroke="#444" stroke-width="0.8"/><text x="323.50" y="441.4" font-size="7.3" text-anchor="middle" font-family="'Liberation Serif', 'DejaVu Serif', serif" fill="#222">S1</text><text x="352.30" y="441.4" font-size="7.3" text-anchor="middle" font-family="'Liberation Serif', 'DejaVu Serif', serif" fill="#222">S2</text><text x="381.10" y="441.4" font-size="7.3" text-anchor="middle" font-family="'Liberation Serif', 'DejaVu Serif', serif" fill="#222">S3</text><text x="409.90" y="441.4" font-size="7.3" text-anchor="middle" font-family="'Liberation Serif', 'DejaVu Serif', serif" fill="#222">S4</text><text x="438.70" y="441.4" font-size="7.3" text-anchor="middle" font-family="'Liberation Serif', 'DejaVu Serif', serif" fill="#222">S5</text><text x="467.50" y="441.4" font-size="7.3" text-anchor="middle" font-family="'Liberation Serif', 'DejaVu Serif', serif" fill="#222">S6</text><text x="496.30" y="441.4" font-size="7.3" text-anchor="middle" font-family="'Liberation Serif', 'DejaVu Serif', serif" fill="#222">S7</text><text x="525.10" y="441.4" font-size="7.3" text-anchor="middle" font-family="'Liberation Serif', 'DejaVu Serif', serif" fill="#222">S8</text><text x="424.30" y="454.2" font-size="8.1" text-anchor="middle" font-family="'Liberation Serif', 'DejaVu Serif', serif" fill="#1a1a1a" stroke="#1a1a1a" stroke-width="0.12">Three-section magnetic continuum robot</text><text transform="translate(293.6,351.3) rotate(-90)" font-size="8.3" textLength="76.4" lengthAdjust="spacingAndGlyphs" text-anchor="middle" font-family="'Liberation Serif', 'DejaVu Serif', serif" fill="#1a1a1a" stroke="#1a1a1a" stroke-width="0.12">Bending angle (degree)</text><text x="275.5" y="260.5" font-size="10.3" font-weight="bold" font-family="'Liberation Serif', 'DejaVu Serif', serif" fill="#111" stroke="#111" stroke-width="0.3">(c)</text><rect x="396.5" y="264.2" width="43.5" height="20.6" fill="#fff" stroke="#ccc" stroke-width="0.8"/><rect x="398" y="266.2" width="18.2" height="7" fill="#e9553a" stroke="#222" stroke-width="0.6"/><text x="418" y="272.5" font-size="8.5" font-family="'Liberation Serif', 'DejaVu Serif', serif" fill="#222">α2-α3</text><rect x="398" y="276.2" width="18.2" height="7" fill="#0f7f7d" stroke="#222" stroke-width="0.6"/><text x="418" y="282.5" font-size="8.5" font-family="'Liberation Serif', 'DejaVu Serif', serif" fill="#222">α1-α3</text>
</svg>
</body></html>
